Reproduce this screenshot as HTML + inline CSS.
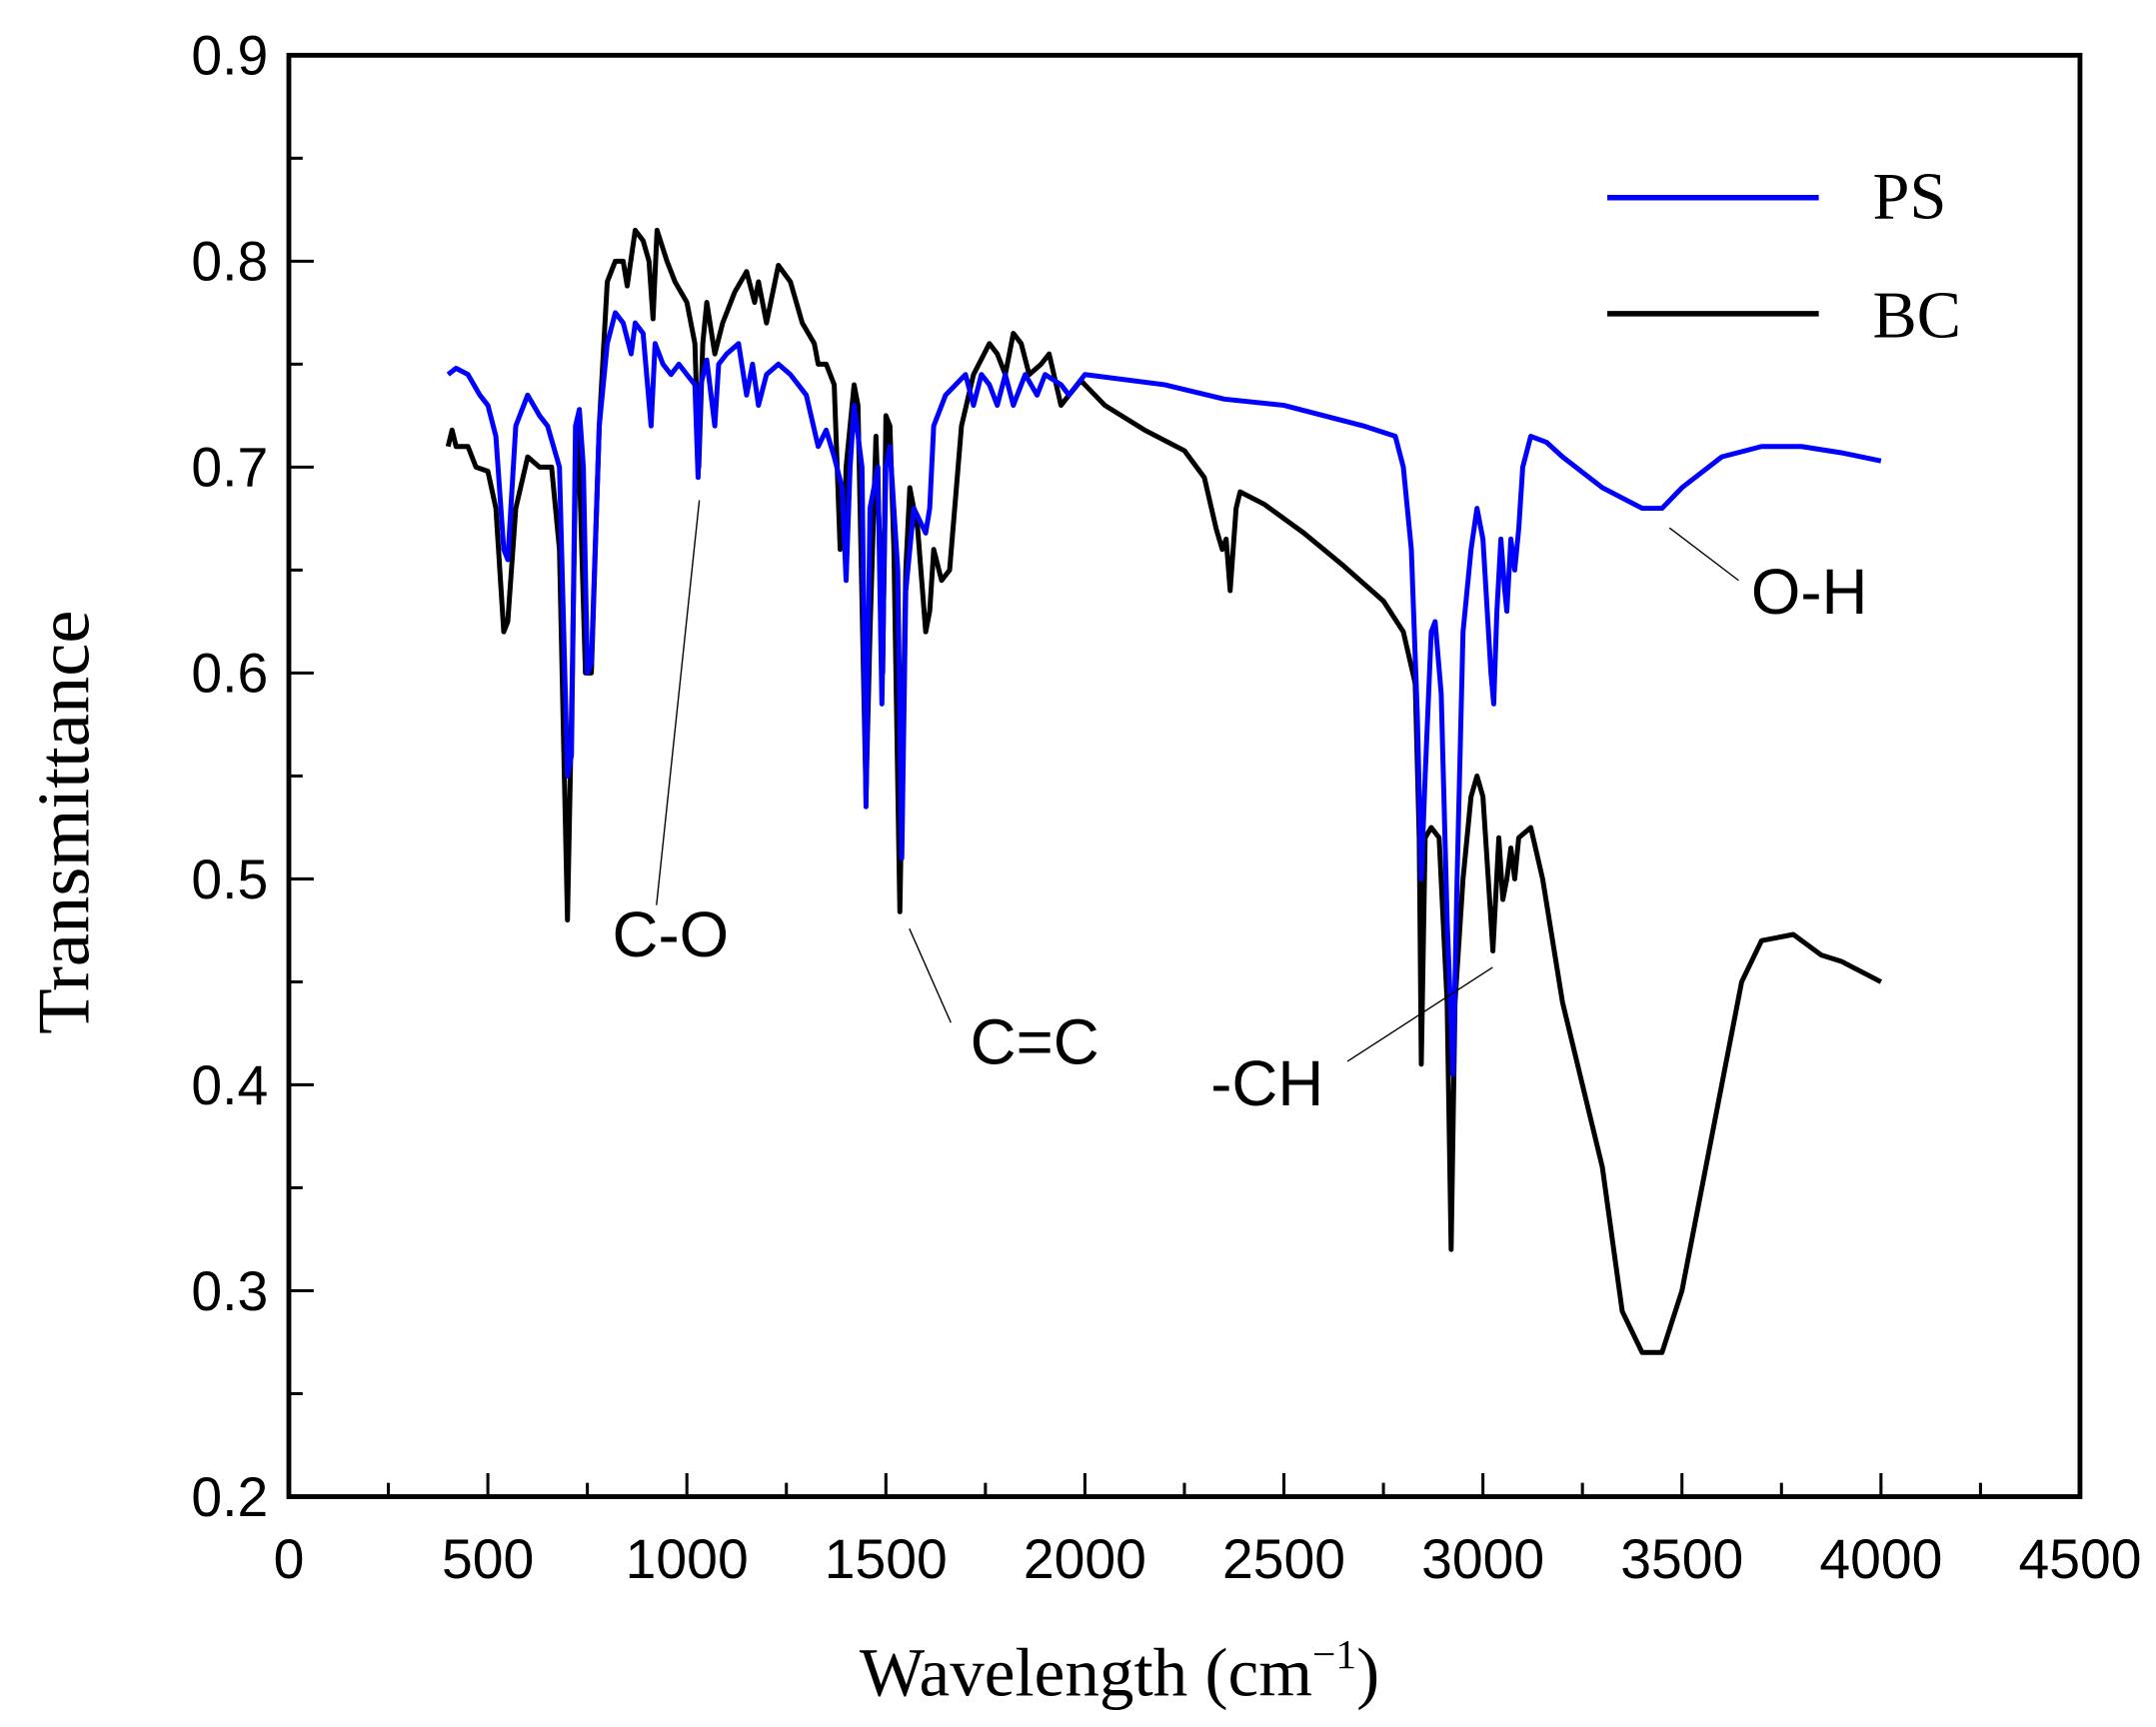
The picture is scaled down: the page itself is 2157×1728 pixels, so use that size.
<!DOCTYPE html>
<html><head><meta charset="utf-8"><style>
html,body{margin:0;padding:0;background:#fff;}
svg{display:block;}
.t{font-family:"Liberation Sans",Arial,sans-serif;font-size:40px;fill:#000;}
.s{font-family:"Liberation Serif","Times New Roman",serif;fill:#000;}
</style></head><body>
<svg id="c" width="2157" height="1728" viewBox="0 0 1560 1249.7" preserveAspectRatio="none" xmlns="http://www.w3.org/2000/svg">
<g id="ticks" stroke="#000" stroke-width="2.2"></g>
<g class="t" id="labels"></g>
<path id="bc" fill="none" stroke="#000" stroke-width="3.6" stroke-linejoin="round"/>
<path id="ps" fill="none" stroke="#0000ff" stroke-width="3.6" stroke-linejoin="round"/>
<rect x="209" y="40" width="1296" height="1043" fill="none" stroke="#000" stroke-width="3.5"/>
<g stroke="#000" stroke-width="1">
<line x1="475" y1="655" x2="506" y2="362"/>
<line x1="688" y1="740" x2="658" y2="672"/>
<line x1="975" y1="768" x2="1080" y2="700"/>
<line x1="1258" y1="420" x2="1208" y2="382"/>
</g>
<text class="t" x="443" y="692" style="font-size:46px">C-O</text>
<text class="t" x="702" y="770" style="font-size:46px">C=C</text>
<text class="t" x="876" y="800" style="font-size:46px">-CH</text>
<text class="t" x="1267" y="444" style="font-size:46px">O-H</text>
<line x1="1163" y1="143" x2="1316" y2="143" stroke="#0000ff" stroke-width="4"/>
<line x1="1163" y1="227" x2="1316" y2="227" stroke="#000" stroke-width="4"/>
<text class="s" x="1355" y="158" font-size="48">PS</text>
<text class="s" x="1355" y="244" font-size="48">BC</text>
<text class="s" x="810" y="1227" font-size="50" text-anchor="middle">Wavelength  (cm<tspan font-size="30" dy="-20">−1</tspan><tspan dy="20">)</tspan></text>
<text class="s" font-size="54" text-anchor="middle" transform="translate(64,595) rotate(-90)">Transmittance</text>
</svg>
<script>
var X=function(w){return 209+w*1296/4500;},Y=function(v){return 1083-(v-0.2)*1490;};
var ps=[400,.745,420,.748,450,.745,480,.735,500,.73,520,.715,540,.66,550,.655,570,.72,600,.735,630,.725,650,.72,680,.70,700,.55,710,.56,720,.72,730,.728,740,.70,750,.60,760,.605,780,.72,800,.76,820,.775,840,.77,860,.755,870,.77,890,.765,910,.72,920,.76,940,.75,960,.745,980,.75,1000,.745,1020,.74,1028,.695,1035,.74,1050,.752,1070,.72,1080,.75,1100,.755,1130,.76,1150,.735,1165,.75,1180,.73,1200,.745,1230,.75,1260,.745,1300,.735,1330,.71,1350,.718,1370,.705,1390,.69,1400,.645,1410,.7,1420,.73,1440,.70,1450,.535,1460,.68,1480,.70,1490,.585,1500,.70,1510,.71,1530,.65,1540,.51,1550,.64,1570,.68,1600,.668,1610,.68,1620,.72,1650,.735,1700,.745,1720,.73,1740,.745,1760,.74,1780,.73,1800,.745,1820,.73,1850,.745,1880,.735,1900,.745,1940,.74,1960,.735,2000,.745,2200,.74,2350,.733,2500,.73,2700,.72,2780,.715,2800,.70,2820,.66,2835,.58,2845,.50,2855,.55,2870,.62,2880,.625,2895,.59,2910,.48,2925,.405,2935,.50,2950,.62,2970,.66,2985,.68,3000,.665,3020,.60,3027,.585,3035,.63,3045,.665,3055,.64,3060,.63,3070,.665,3080,.65,3090,.67,3100,.70,3120,.715,3160,.712,3200,.705,3300,.69,3400,.68,3450,.68,3500,.69,3600,.705,3700,.71,3800,.71,3900,.707,4000,.703];
var bc=[400,.71,410,.718,420,.71,450,.71,470,.70,500,.698,520,.68,540,.62,550,.625,570,.68,600,.705,630,.70,660,.70,680,.66,700,.48,712,.60,722,.72,730,.70,745,.60,760,.60,780,.72,800,.79,820,.80,840,.8,850,.788,870,.815,890,.81,905,.8,915,.772,925,.815,950,.8,970,.79,1000,.78,1020,.76,1030,.70,1040,.76,1050,.78,1070,.755,1090,.77,1120,.785,1150,.795,1170,.78,1180,.79,1200,.77,1230,.798,1260,.79,1290,.77,1320,.76,1330,.75,1350,.75,1370,.74,1385,.66,1395,.665,1400,.70,1420,.74,1430,.73,1450,.54,1460,.62,1475,.715,1485,.66,1492,.6,1500,.725,1510,.72,1520,.66,1535,.484,1550,.65,1560,.69,1580,.67,1600,.62,1610,.63,1620,.66,1640,.645,1660,.65,1690,.72,1720,.745,1760,.76,1780,.755,1800,.745,1820,.765,1840,.76,1860,.745,1890,.75,1910,.755,1940,.73,1960,.735,1990,.742,2050,.73,2150,.718,2250,.708,2300,.695,2330,.67,2345,.66,2355,.665,2365,.64,2380,.68,2390,.688,2450,.682,2550,.668,2650,.652,2750,.635,2800,.62,2830,.595,2840,.52,2845,.41,2855,.52,2870,.525,2890,.52,2910,.44,2920,.32,2930,.44,2950,.50,2970,.54,2985,.55,3000,.54,3020,.48,3025,.465,3040,.52,3050,.49,3060,.50,3070,.515,3080,.50,3090,.52,3120,.525,3150,.5,3200,.44,3300,.36,3350,.29,3400,.27,3450,.27,3500,.30,3600,.40,3650,.45,3700,.47,3780,.473,3850,.463,3900,.46,4000,.45];
function P(a){var d="";for(var i=0;i<a.length;i+=2)d+=(i?"L":"M")+X(a[i]).toFixed(1)+" "+Y(a[i+1]).toFixed(1);return d;}
document.getElementById("ps").setAttribute("d",P(ps));
document.getElementById("bc").setAttribute("d",P(bc));
var ns="http://www.w3.org/2000/svg",tk=document.getElementById("ticks"),lb=document.getElementById("labels");
function L(x1,y1,x2,y2){var l=document.createElementNS(ns,"line");l.setAttribute("x1",x1);l.setAttribute("y1",y1);l.setAttribute("x2",x2);l.setAttribute("y2",y2);tk.appendChild(l);}
function T(x,y,s,a){var t=document.createElementNS(ns,"text");t.setAttribute("x",x);t.setAttribute("y",y);t.setAttribute("text-anchor",a);t.textContent=s;lb.appendChild(t);}
for(var w=0;w<=4500;w+=250){var x=X(w);L(x,1083,x,1083-(w%500?10:17));if(w%500==0)T(x,1142,String(w),"middle");}
for(var k=0;k<=14;k++){var v=0.2+k*0.05,y=Y(v);L(209,y,209+(k%2?10:18),y);if(k%2==0)T(194,y+14,v.toFixed(1),"end");}
</script>
</body></html>
